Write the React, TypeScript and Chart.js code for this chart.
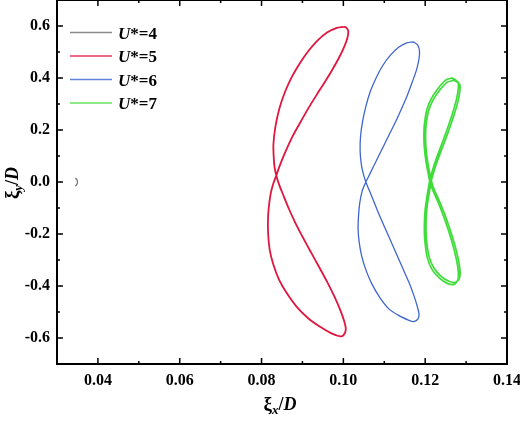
import React, { useEffect, useRef } from "react";
import { Chart, registerables } from "chart.js";

Chart.register(...registerables);

// ---------- data ----------
const seriesLabels = ["U*=4", "U*=5", "U*=6", "U*=7"];
const seriesColors = ["#6e6e6e", "#e0163f", "#3f66cf", "#3fdc3a"];
const legendLineColors = ["#8a8a8a", "#e8395c", "#5f82dc", "#66e060"];

const u4X = [0.0345, 0.0349, 0.035, 0.0349, 0.0345];
const u4Y = [0.016, 0.008, 0.0, -0.008, -0.016];

const u5X = [
  0.1, 0.0984, 0.096, 0.0936, 0.0914, 0.0894, 0.0875, 0.0858, 0.0844, 0.0834,
  0.0829, 0.083, 0.0832, 0.0836, 0.0843, 0.0853, 0.0866, 0.0882, 0.09, 0.092,
  0.094, 0.096, 0.0978, 0.0993, 0.1003, 0.1006, 0.1001, 0.0993,
  0.0971, 0.0943, 0.0914, 0.0886, 0.0862, 0.0843, 0.0829, 0.082, 0.0816, 0.0816,
  0.0819, 0.0823, 0.0829, 0.0836, 0.0845, 0.0858, 0.0874, 0.0895, 0.0915, 0.0935,
  0.0954, 0.0973, 0.0989, 0.1002, 0.101, 0.1012, 0.1007, 0.1,
];
const u5Y = [
  0.597, 0.593, 0.575, 0.543, 0.503, 0.458, 0.407, 0.349, 0.285, 0.214,
  0.144, 0.09, 0.055, 0.025, -0.01, -0.05, -0.1, -0.155, -0.21, -0.268,
  -0.325, -0.383, -0.44, -0.495, -0.54, -0.568, -0.588, -0.594,
  -0.582, -0.557, -0.524, -0.48, -0.428, -0.376, -0.318, -0.261, -0.196, -0.132,
  -0.08, -0.04, -0.005, 0.025, 0.065, 0.115, 0.17, 0.23, 0.285, 0.336,
  0.383, 0.432, 0.477, 0.52, 0.555, 0.58, 0.594, 0.597,
];

const u6X = [
  0.1171, 0.1155, 0.1135, 0.1114, 0.1096, 0.108, 0.1066, 0.1055, 0.1047, 0.1042,
  0.1041, 0.1044, 0.1049, 0.1055, 0.1064, 0.1077, 0.109, 0.1104, 0.1118, 0.1132,
  0.1146, 0.116, 0.1172, 0.1181, 0.1185, 0.1182, 0.1171,
  0.1159, 0.1135, 0.111, 0.1088, 0.1069, 0.1055, 0.1045, 0.1039, 0.1036, 0.1037,
  0.104, 0.1046, 0.1055, 0.1066, 0.108, 0.1096, 0.1112, 0.1128, 0.1143, 0.1157,
  0.1169, 0.1179, 0.1185, 0.1186, 0.1181, 0.1171,
];
const u6Y = [
  0.539, 0.535, 0.518, 0.486, 0.447, 0.4, 0.349, 0.291, 0.233, 0.176,
  0.118, 0.067, 0.03, 0.0, -0.035, -0.085, -0.135, -0.185, -0.235, -0.285,
  -0.335, -0.385, -0.435, -0.48, -0.51, -0.528, -0.537,
  -0.531, -0.513, -0.486, -0.442, -0.39, -0.338, -0.286, -0.235, -0.184, -0.132,
  -0.081, -0.035, 0.0, 0.035, 0.08, 0.131, 0.182, 0.233, 0.285, 0.336,
  0.387, 0.432, 0.475, 0.505, 0.528, 0.539,
];

const u7X = [
  0.1266, 0.125, 0.123, 0.1214, 0.1204, 0.1198, 0.1197, 0.1199, 0.1203, 0.1207,
  0.1211, 0.1217, 0.1232, 0.1248, 0.1264, 0.1276, 0.1281, 0.128, 0.127, 0.1254,
  0.1235, 0.1217, 0.1205, 0.1199, 0.1198, 0.12, 0.1204, 0.1208, 0.1211, 0.1216,
  0.1225, 0.1238, 0.1252, 0.1265, 0.1276, 0.1281, 0.128, 0.1266,
  0.127, 0.1254, 0.1234, 0.1218, 0.1208, 0.1202, 0.1201, 0.1203, 0.1207, 0.1211,
  0.1215, 0.1221, 0.1236, 0.1252, 0.1268, 0.128, 0.1285, 0.1284, 0.1274, 0.1258,
  0.1239, 0.1221, 0.1209, 0.1203, 0.1202, 0.1204, 0.1208, 0.1212, 0.1215, 0.122,
  0.1229, 0.1242, 0.1256, 0.1269, 0.128, 0.1285, 0.1284, 0.127,
];
const u7Y = [
  0.4, 0.392, 0.357, 0.318, 0.278, 0.221, 0.163, 0.115, 0.07, 0.035,
  0.005, -0.025, -0.08, -0.145, -0.222, -0.295, -0.345, -0.376, -0.394, -0.39,
  -0.37, -0.337, -0.29, -0.222, -0.164, -0.107, -0.06, -0.022, 0.005, 0.035,
  0.08, 0.135, 0.195, 0.255, 0.315, 0.36, 0.385, 0.4,
  0.392, 0.384, 0.35, 0.312, 0.272, 0.217, 0.16, 0.113, 0.069, 0.034,
  0.005, -0.025, -0.078, -0.142, -0.218, -0.289, -0.338, -0.368, -0.386, -0.382,
  -0.363, -0.33, -0.284, -0.218, -0.161, -0.105, -0.059, -0.022, 0.005, 0.034,
  0.078, 0.132, 0.191, 0.25, 0.309, 0.353, 0.377, 0.392,
];

const xRange = [0.03, 0.14];
const yRange = [-0.7, 0.7];
const xTicks = [0.04, 0.06, 0.08, 0.1, 0.12, 0.14];
const xTickLabels = ["0.04", "0.06", "0.08", "0.10", "0.12", "0.14"];
const xMinorTicks = [0.05, 0.07, 0.09, 0.11, 0.13];
const yTicks = [-0.6, -0.4, -0.2, 0.0, 0.2, 0.4, 0.6];
const yTickLabels = ["-0.6", "-0.4", "-0.2", "0.0", "0.2", "0.4", "0.6"];
const yMinorTicks = [-0.5, -0.3, -0.1, 0.1, 0.3, 0.5];

const FAMILY = "'Liberation Serif', 'Times New Roman', serif";

const toPoints = (xs: number[], ys: number[]) => xs.map((x, i) => ({ x, y: ys[i] }));

type Part = { t: string; font: string; dy?: number };

function drawRich(ctx: CanvasRenderingContext2D, parts: Part[], cx: number, baseline: number, align: "center" | "left") {
  let total = 0;
  const widths = parts.map((p) => {
    ctx.font = p.font;
    const w = ctx.measureText(p.t).width;
    total += w;
    return w;
  });
  let x = align === "center" ? cx - total / 2 : cx;
  ctx.textAlign = "left";
  ctx.textBaseline = "alphabetic";
  parts.forEach((p, i) => {
    ctx.font = p.font;
    ctx.fillText(p.t, x, baseline + (p.dy || 0));
    x += widths[i];
  });
}

const framePlugin = {
  id: "frame",
  afterDatasetsDraw(chart: any) {
    const { ctx, chartArea: a, scales } = chart;
    const xs = scales.x;
    const ys = scales.y;
    ctx.save();
    ctx.strokeStyle = "#000";
    ctx.lineWidth = 2;
    ctx.strokeRect(a.left, a.top, a.right - a.left, a.bottom - a.top);
    ctx.lineWidth = 1.5;
    const xTick = (v: number, len: number) => {
      const px = xs.getPixelForValue(v);
      ctx.beginPath();
      ctx.moveTo(px, a.bottom);
      ctx.lineTo(px, a.bottom - len);
      ctx.moveTo(px, a.top);
      ctx.lineTo(px, a.top + len);
      ctx.stroke();
    };
    const yTick = (v: number, len: number) => {
      const py = ys.getPixelForValue(v);
      ctx.beginPath();
      ctx.moveTo(a.left, py);
      ctx.lineTo(a.left + len, py);
      ctx.moveTo(a.right, py);
      ctx.lineTo(a.right - len, py);
      ctx.stroke();
    };
    xTicks.forEach((v) => xTick(v, 6));
    xMinorTicks.forEach((v) => xTick(v, 3));
    yTicks.forEach((v) => yTick(v, 6));
    yMinorTicks.forEach((v) => yTick(v, 3));

    // legend
    ctx.fillStyle = "#000";
    seriesLabels.forEach((lab, i) => {
      const cy = 32.5 + i * 23.5;
      ctx.strokeStyle = legendLineColors[i];
      ctx.lineWidth = 1.5;
      ctx.beginPath();
      ctx.moveTo(70, cy);
      ctx.lineTo(112, cy);
      ctx.stroke();
      drawRich(
        ctx,
        [
          { t: lab.slice(0, 1), font: `italic bold 17px ${FAMILY}` },
          { t: lab.slice(1), font: `bold 17px ${FAMILY}` },
        ],
        118,
        cy + 6,
        "left"
      );
    });

    // axis titles
    ctx.fillStyle = "#000";
    drawRich(
      ctx,
      [
        { t: "ξ", font: `bold 19px ${FAMILY}` },
        { t: "x", font: `italic bold 13px ${FAMILY}`, dy: 4 },
        { t: "/", font: `bold 18px ${FAMILY}` },
        { t: "D", font: `italic bold 18px ${FAMILY}` },
      ],
      280,
      410,
      "center"
    );
    ctx.save();
    ctx.translate(18, 183);
    ctx.rotate(-Math.PI / 2);
    drawRich(
      ctx,
      [
        { t: "ξ", font: `bold 19px ${FAMILY}` },
        { t: "y", font: `italic bold 13px ${FAMILY}`, dy: 4 },
        { t: "/", font: `bold 18px ${FAMILY}` },
        { t: "D", font: `italic bold 18px ${FAMILY}` },
      ],
      0,
      0,
      "center"
    );
    ctx.restore();
    ctx.restore();
  },
};

export default function App() {
  const ref = useRef<HTMLCanvasElement | null>(null);
  useEffect(() => {
    if (!ref.current) return;
    const xsets = [u4X, u5X, u6X, u7X];
    const ysets = [u4Y, u5Y, u6Y, u7Y];
    const widths = [1.2, 1.8, 1.3, 1.7];
    const chart = new Chart(ref.current, {
      type: "scatter",
      data: {
        datasets: seriesLabels.map((label, i) => ({
          label,
          data: toPoints(xsets[i], ysets[i]),
          showLine: true,
          borderColor: seriesColors[i],
          backgroundColor: seriesColors[i],
          borderWidth: widths[i],
          pointRadius: 0,
          tension: 0.3,
          fill: false,
        })),
      },
      options: {
        animation: false,
        responsive: false,
        events: [],
        layout: { padding: { left: 0, right: 13, top: 0, bottom: 0 } },
        plugins: { legend: { display: false }, tooltip: { enabled: false } },
        scales: {
          x: {
            type: "linear",
            min: xRange[0],
            max: xRange[1],
            grid: { display: false, drawTicks: false },
            border: { display: false },
            afterBuildTicks: (s: any) => {
              s.ticks = xTicks.map((v) => ({ value: v }));
            },
            afterFit: (s: any) => {
              s.height = 57;
              s.paddingLeft = 0;
              s.paddingRight = 0;
            },
            ticks: {
              padding: 7,
              color: "#000",
              font: { family: FAMILY, size: 16, weight: "bold" },
              maxRotation: 0,
              callback: (_v: any, i: number) => xTickLabels[i],
            },
          },
          y: {
            type: "linear",
            min: yRange[0],
            max: yRange[1],
            grid: { display: false, drawTicks: false },
            border: { display: false },
            afterBuildTicks: (s: any) => {
              s.ticks = yTicks.map((v) => ({ value: v }));
            },
            afterFit: (s: any) => {
              s.width = 57;
              s.paddingTop = 0;
              s.paddingBottom = 0;
            },
            ticks: {
              padding: 7,
              color: "#000",
              font: { family: FAMILY, size: 16, weight: "bold" },
              callback: (_v: any, i: number) => yTickLabels[i],
            },
          },
        },
      },
      plugins: [framePlugin],
    } as any);
    return () => chart.destroy();
  }, []);
  return (
    <div style={{ position: "fixed", left: 0, top: 0, width: 520, height: 421, background: "#fff" }}>
      <canvas ref={ref} width={520} height={421} />
    </div>
  );
}
